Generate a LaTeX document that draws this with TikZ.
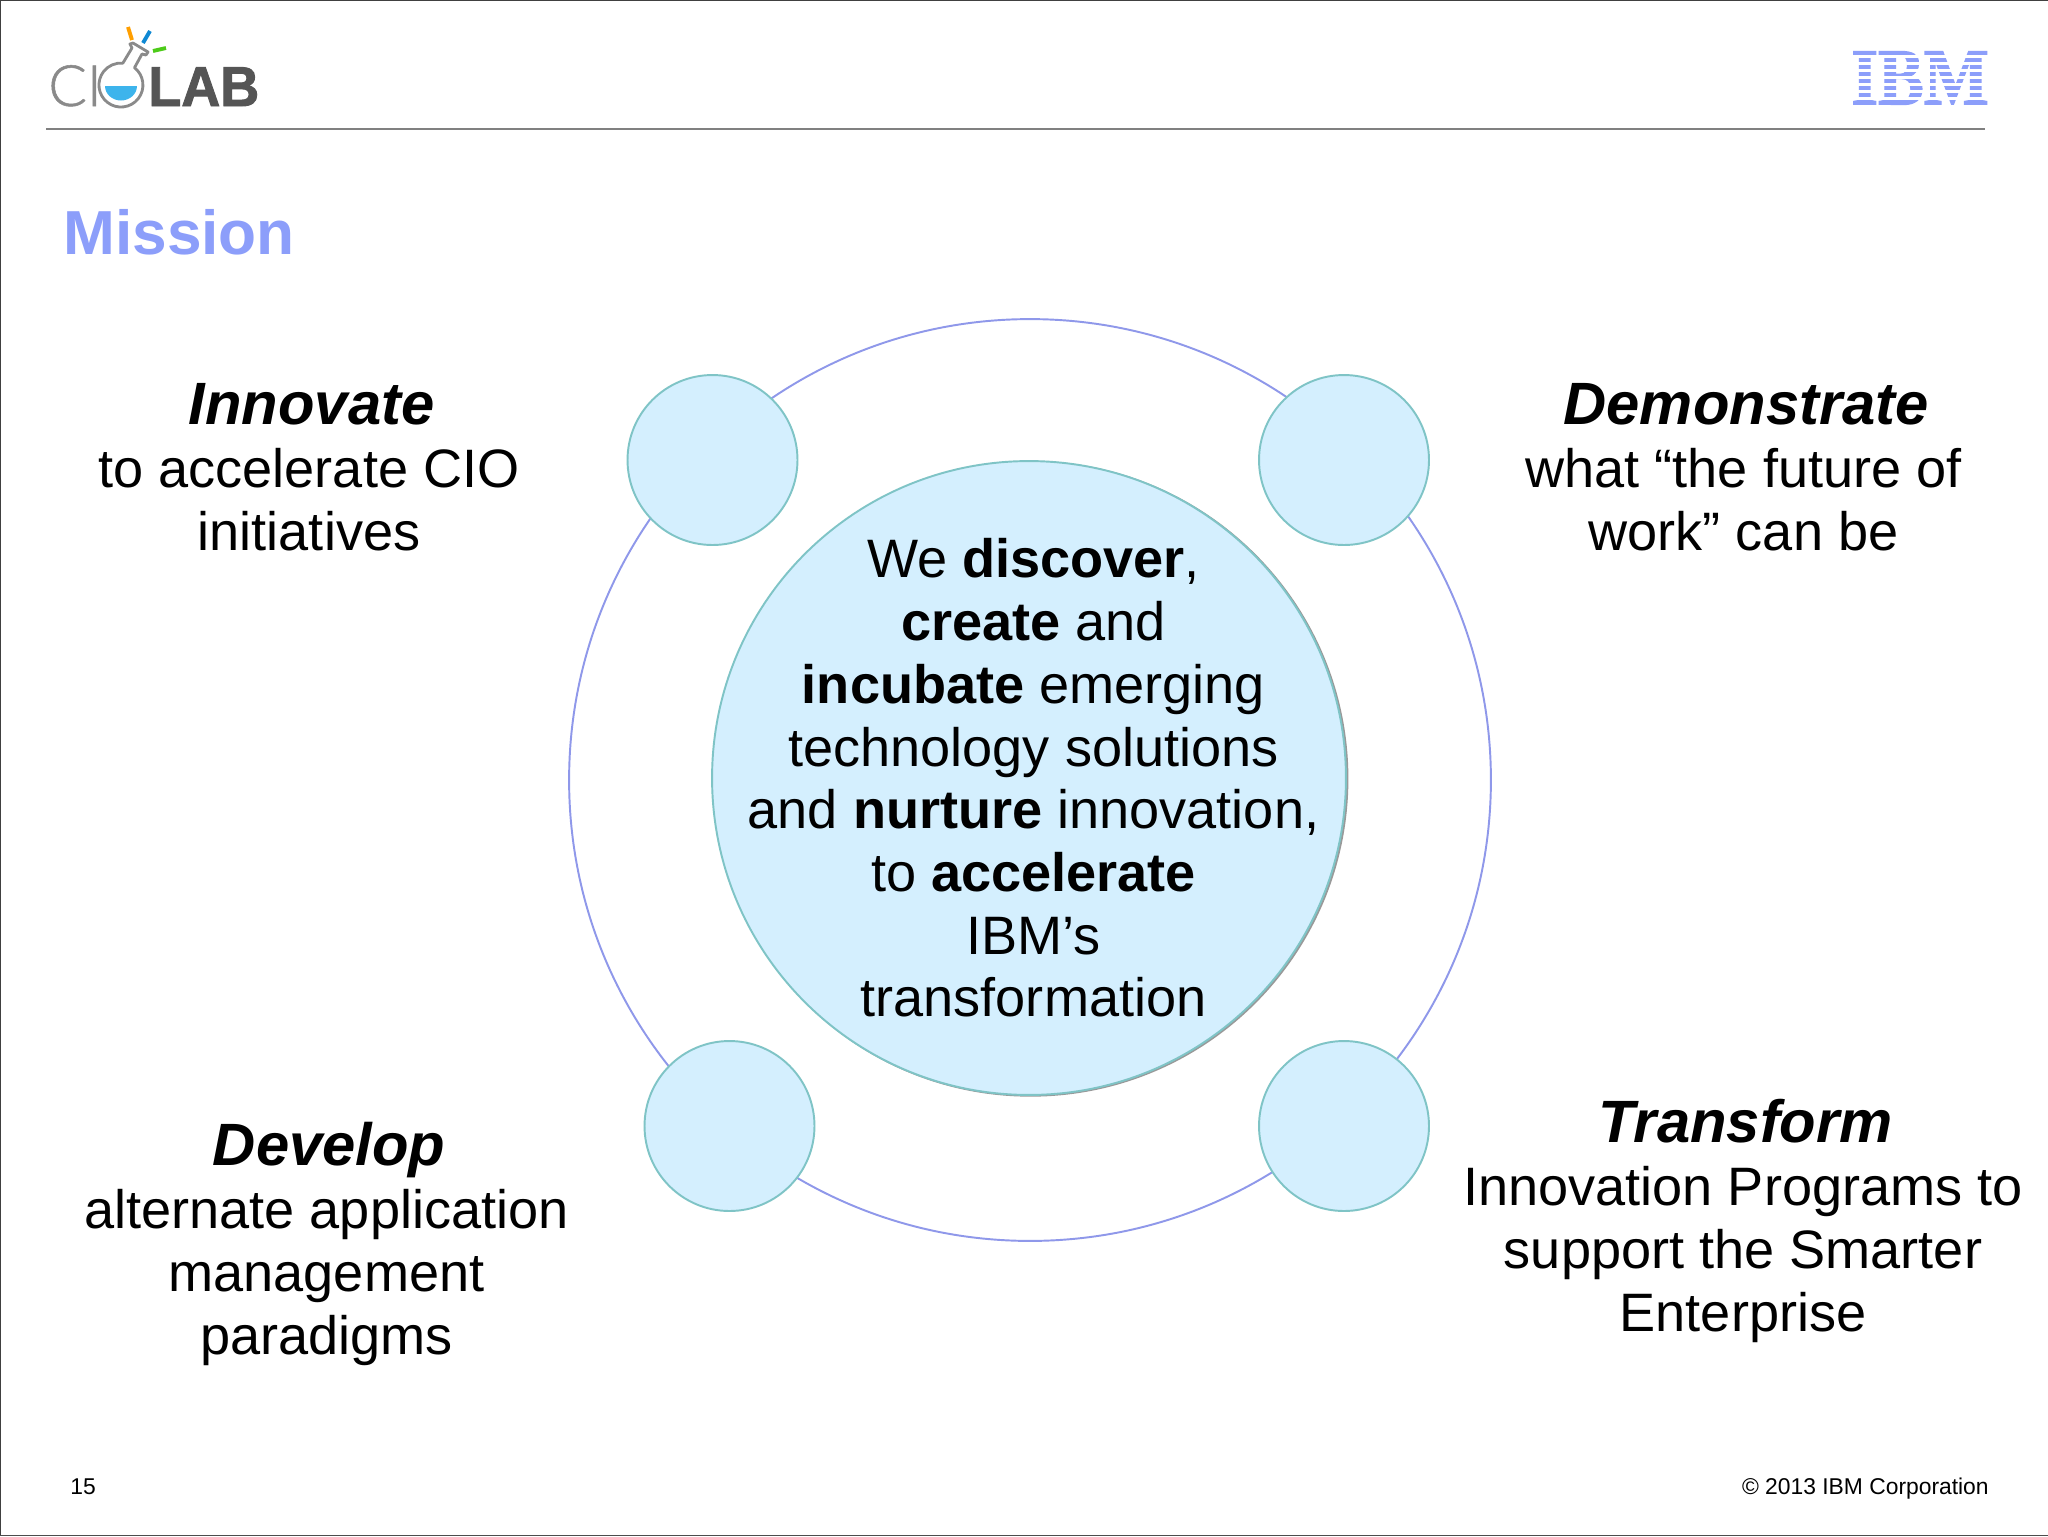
\documentclass[tikz,border=0pt]{standalone}
\usepackage{fontspec}
\setmainfont{Liberation Sans}
\newfontfamily\logothin[UprightFont={* Light},FakeBold=0.9]{Lato}
\newfontfamily\labf[UprightFont={* Bold},FakeBold=1.6,FakeStretch=0.96]{Liberation Sans}
\newfontfamily\slab[UprightFont={* Bold},FakeBold=1.5,FakeStretch=0.85]{Liberation Serif}
\definecolor{ringc}{HTML}{8F98EA}
\definecolor{discfill}{HTML}{D4EFFE}
\definecolor{discline}{HTML}{7FC4C6}
\definecolor{titlec}{HTML}{8C9EFA}
\definecolor{logogray}{HTML}{8A8A8A}
\definecolor{labgray}{HTML}{555555}
\definecolor{liquid}{HTML}{3DB4EC}
\tikzset{
  x=0.02cm,y=-0.02cm,
  ring/.style={circle,draw=ringc,line width=1.1pt,inner sep=0,minimum size=18.44cm},
  disc/.style={circle,draw=discline,fill=discfill,line width=1.1pt,inner sep=0,minimum size=3.40cm},
  hub/.style={circle,draw=discline,fill=discfill,line width=1.1pt,inner sep=0,minimum size=12.68cm},
  body/.style={align=center,inner sep=0,text=black,font=\fontsize{30.8}{35.7}\selectfont},
  foot/.style={inner sep=0,text=black,font=\fontsize{13}{15}\selectfont},
}
\newcommand{\hd}[1]{{\fontsize{34}{35.7}\selectfont\bfseries\itshape\hspace*{3pt}#1}}
\begin{document}
\begin{tikzpicture}
\useasboundingbox (0,0) rectangle (2048,1536);
\fill[white] (0,0) rectangle (2048,1536);
\draw[black!75,line width=1.4pt] (0,1536) -- (0,0) -- (2048,0);
\draw[black!70,line width=0.7pt] (0,1535.5) -- (2048,1535.5);
% header
\coordinate (ruleL) at (46,129);
\coordinate (ruleR) at (1985,129);
\draw[gray,line width=0.9pt] (ruleL) -- (ruleR);
% CIO LAB logo
\node[inner sep=0,anchor=base west,text=logogray,font=\logothin\fontsize{32.5}{33}\selectfont] (ci) at (48,106) {CI};
\node[inner sep=0,anchor=base west,text=labgray,font=\labf\fontsize{32}{32}\selectfont] (lab) at (148,106) {LAB};
\fill[liquid] (105,86) arc (180:360:0.32cm and 0.29cm) -- cycle;
\draw[logogray,line width=1.6pt,line join=round] (134.5,67.7) arc (52:-275:0.44cm) -- (132,48) -- (130,44) -- (133,43) -- (148,52) -- (146,55) -- (142,54) -- cycle;
\draw[orange!75!yellow,line width=2.2pt] (128,27) -- (132,40);
\draw[cyan!70!blue,line width=2.2pt] (150,31) -- (143,43);
\draw[green!55!olive!90,line width=2.2pt] (153,51) -- (166,48);
% IBM logo
\node[inner sep=0,text=titlec,font=\slab\fontsize{46}{46}\selectfont,anchor=center] (ibm) at (1920,78) {IBM};
\foreach \yy in {55,62,69,76,83,90,97}{ \fill[white] (1845,\yy) rectangle (1995,\yy+2.8); }
% diagram
\node[ring] (outer) at (1030,780) {};
\node[disc] (nw) at (712.5,460) {};
\node[disc] (ne) at (1344,460) {};
\node[disc] (sw) at (729.5,1126) {};
\node[disc] (se) at (1344,1126) {};
\node[hub,draw=gray!80,fill=gray!80,xshift=0.03cm,yshift=-0.015cm] (hubshadow) at (1029,778) {};
\node[hub] (hub) at (1029,778) {};
\node[body] (mission) at (1033.5,778) {We \textbf{discover},\\\textbf{create} and\\\textbf{incubate} emerging\\technology solutions\\and \textbf{nurture} innovation,\\to \textbf{accelerate}\\IBM’s\\transformation};
% titles and labels
\node[inner sep=0,anchor=base west,text=titlec,font=\fontsize{35.4}{40}\selectfont\bfseries] (title) at (63,254) {Mission};
\node[body] (innovate) at (309,467) {\hd{Innovate}\\to accelerate CIO\\initiatives};
\node[body] (demo) at (1743.5,467) {\hd{Demonstrate}\\what “the future of\\work” can be};
\node[body] (develop) at (326.5,1244) {\hd{Develop}\\alternate application\\management\\paradigms};
\node[body] (transform) at (1743,1221) {\hd{Transform}\\Innovation Programs to\\support the Smarter\\Enterprise};
% footer
\node[foot,anchor=base west] (page) at (70,1494) {15};
\node[foot,anchor=base east] (copy) at (1989,1494) {© 2013 IBM Corporation};
\end{tikzpicture}
\end{document}
